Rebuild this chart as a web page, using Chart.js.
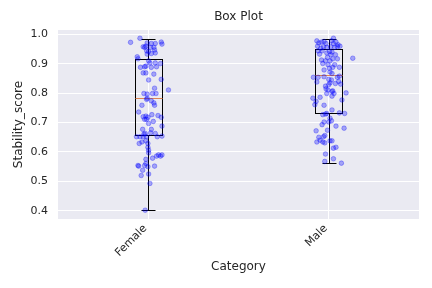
<!DOCTYPE html>
<html>
<head>
<meta charset="utf-8">
<script src="https://cdn.jsdelivr.net/npm/chart.js@4.4.1/dist/chart.umd.min.js"></script>
<style>
    html, body { margin: 0; padding: 0; background: #fff; }
</style>
</head>
<body>
<canvas id="boxChart" width="432" height="288"></canvas>
<script>
// Categories and box statistics
const categories = ["Female", "Male"];
const q1Values = [0.657, 0.731];
const medianValues = [0.784, 0.863];
const q3Values = [0.918, 0.949];
const whiskerLow = [0.401, 0.562];
const whiskerHigh = [0.986, 0.986];
const yTicks = [0.4, 0.5, 0.6, 0.7, 0.8, 0.9, 1.0];

// Individual scores and the horizontal jitter of each dot
const femaleScores = [0.987, 0.973, 0.971, 0.969, 0.969, 0.974, 0.967, 0.958, 0.956, 0.960,
    0.956, 0.956, 0.944, 0.942, 0.947, 0.937, 0.933, 0.935, 0.924, 0.917,
    0.910, 0.903, 0.903, 0.901, 0.888, 0.890, 0.892, 0.888, 0.890, 0.869,
    0.869, 0.865, 0.845, 0.847, 0.817, 0.811, 0.799, 0.797, 0.799, 0.799,
    0.779, 0.783, 0.774, 0.767, 0.759, 0.759, 0.736, 0.720, 0.722, 0.718,
    0.727, 0.724, 0.711, 0.711, 0.704, 0.718, 0.697, 0.688, 0.677, 0.677,
    0.661, 0.663, 0.665, 0.663, 0.652, 0.652, 0.652, 0.652, 0.652, 0.654,
    0.634, 0.638, 0.629, 0.629, 0.616, 0.606, 0.597, 0.590, 0.590, 0.575,
    0.579, 0.586, 0.586, 0.561, 0.554, 0.550, 0.552, 0.554, 0.552, 0.538,
    0.520, 0.525, 0.493, 0.402];
const femaleJitter = [-0.046, -0.098, -0.006, 0.017, 0.039, 0.072, 0.076, -0.028, -0.020, -0.013,
    0.013, 0.031, -0.009, 0.002, 0.035, 0.039, -0.006, 0.017, -0.061, -0.057,
    0.002, 0.009, 0.039, 0.068, -0.043, -0.020, -0.013, 0.017, 0.046, -0.028,
    -0.013, 0.031, 0.002, 0.072, 0.035, 0.112, -0.024, -0.006, 0.024, 0.043,
    -0.009, -0.006, 0.017, 0.031, 0.035, -0.035, -0.053, -0.028, -0.013, -0.002,
    0.020, 0.054, -0.020, -0.009, 0.028, 0.072, 0.002, 0.076, -0.031, 0.017,
    -0.024, -0.017, 0.013, 0.039, -0.065, -0.046, -0.028, -0.009, 0.050, 0.076,
    -0.035, -0.013, -0.002, -0.050, -0.002, 0.002, 0.002, 0.057, 0.076, -0.013,
    0.024, 0.046, 0.068, -0.013, -0.020, -0.002, 0.035, -0.057, -0.053, -0.031,
    -0.039, 0.002, 0.009, -0.017];

const maleScores = [0.987, 0.978, 0.971, 0.974, 0.976, 0.969, 0.978, 0.969, 0.974, 0.965,
    0.960, 0.960, 0.953, 0.958, 0.956, 0.958, 0.956, 0.958, 0.944, 0.944,
    0.937, 0.942, 0.940, 0.933, 0.931, 0.931, 0.922, 0.917, 0.917, 0.919,
    0.913, 0.910, 0.910, 0.901, 0.897, 0.897, 0.885, 0.888, 0.888, 0.879,
    0.872, 0.867, 0.854, 0.856, 0.854, 0.858, 0.854, 0.847, 0.845, 0.838,
    0.835, 0.840, 0.824, 0.829, 0.833, 0.831, 0.815, 0.811, 0.808, 0.801,
    0.799, 0.806, 0.799, 0.783, 0.786, 0.790, 0.772, 0.761, 0.777, 0.759,
    0.743, 0.727, 0.729, 0.731, 0.733, 0.731, 0.715, 0.706, 0.702, 0.702,
    0.693, 0.688, 0.681, 0.674, 0.672, 0.656, 0.652, 0.650, 0.640, 0.634,
    0.634, 0.631, 0.638, 0.638, 0.613, 0.616, 0.593, 0.568, 0.577, 0.562];
const maleJitter = [0.026, -0.066, -0.055, -0.040, -0.026, -0.015, 0.015, 0.026, 0.040, 0.051,
    0.062, -0.062, -0.044, -0.029, -0.011, 0.011, 0.033, 0.048, -0.059, -0.037,
    -0.011, 0.004, 0.018, -0.051, 0.011, 0.037, -0.007, 0.022, 0.048, 0.133,
    -0.040, -0.018, 0.007, -0.033, -0.004, 0.033, 0.004, 0.022, 0.059, -0.026,
    0.007, 0.018, -0.059, -0.026, 0.048, 0.059, -0.085, 0.000, 0.015, -0.066,
    0.007, 0.055, -0.018, 0.000, 0.037, 0.066, -0.015, -0.004, 0.022, 0.096,
    -0.011, 0.018, 0.029, -0.088, -0.048, 0.018, -0.070, -0.077, 0.073, -0.026,
    0.018, -0.033, -0.018, -0.011, 0.059, 0.088, 0.007, 0.015, 0.000, -0.026,
    -0.037, 0.040, 0.085, -0.007, -0.070, -0.022, -0.029, -0.055, -0.048, -0.033,
    -0.066, -0.022, 0.007, 0.018, 0.026, 0.040, -0.018, -0.022, 0.026, 0.070];

const textColor = "#262626";
const fontFamily = "'DejaVu Sans', sans-serif";

function toPoints(catIndex, scores, jitter) {
    return scores.map((v, i) => ({ x: catIndex + jitter[i], y: v }));
}

// Grey panel behind the grid
const panelBackground = {
    id: "panelBackground",
    beforeDraw(chart) {
        const { ctx, chartArea: a } = chart;
        ctx.save();
        ctx.fillStyle = "#EAEAF2";
        ctx.fillRect(a.left, a.top, a.right - a.left, a.bottom - a.top);
        ctx.restore();
    }
};

// Box, whiskers and median, placed through the chart scales
const boxDrawer = {
    id: "boxDrawer",
    beforeDatasetsDraw(chart) {
        const { ctx, scales: { x, y } } = chart;
        const half = 0.075;
        ctx.save();
        ctx.lineWidth = 1;
        categories.forEach((cat, i) => {
            const xl = Math.round(x.getPixelForValue(i - half)) + 0.5;
            const xr = Math.round(x.getPixelForValue(i + half)) + 0.5;
            const xc = Math.round(x.getPixelForValue(i)) + 0.5;
            const cl = Math.round(x.getPixelForValue(i - half / 2)) + 0.5;
            const cr = Math.round(x.getPixelForValue(i + half / 2)) + 0.5;
            const yq1 = Math.round(y.getPixelForValue(q1Values[i])) + 0.5;
            const yq3 = Math.round(y.getPixelForValue(q3Values[i])) + 0.5;
            const ymed = Math.round(y.getPixelForValue(medianValues[i])) + 0.5;
            const ylo = Math.round(y.getPixelForValue(whiskerLow[i])) + 0.5;
            const yhi = Math.round(y.getPixelForValue(whiskerHigh[i])) + 0.5;

            ctx.strokeStyle = "#000";
            ctx.strokeRect(xl, yq3, xr - xl, yq1 - yq3);
            ctx.beginPath();
            ctx.moveTo(xc, yq1); ctx.lineTo(xc, ylo);
            ctx.moveTo(xc, yq3); ctx.lineTo(xc, yhi);
            ctx.moveTo(cl, ylo); ctx.lineTo(cr, ylo);
            ctx.moveTo(cl, yhi); ctx.lineTo(cr, yhi);
            ctx.stroke();

            ctx.strokeStyle = "#DD8452";
            ctx.beginPath();
            ctx.moveTo(xl, ymed); ctx.lineTo(xr, ymed);
            ctx.stroke();
        });
        ctx.restore();
    }
};

const dotStyle = {
    backgroundColor: "rgba(0, 0, 255, 0.3)",
    borderColor: "rgba(0, 0, 255, 0.3)",
    borderWidth: 1,
    pointRadius: 2.3
};

new Chart(document.getElementById("boxChart"), {
    type: "scatter",
    data: {
        datasets: [
            { label: categories[0], data: toPoints(0, femaleScores, femaleJitter), ...dotStyle },
            { label: categories[1], data: toPoints(1, maleScores, maleJitter), ...dotStyle }
        ]
    },
    options: {
        responsive: false,
        animation: false,
        layout: { padding: { left: 0, right: 13, top: 0, bottom: 0 } },
        plugins: {
            legend: { display: false },
            tooltip: { enabled: false },
            title: {
                display: true,
                text: "Box Plot",
                fullSize: false,
                color: textColor,
                font: { family: fontFamily, size: 12, weight: "normal" },
                padding: { top: 10, bottom: 5.6 }
            }
        },
        scales: {
            x: {
                type: "linear",
                min: -0.5,
                max: 1.5,
                afterBuildTicks: s => { s.ticks = categories.map((c, i) => ({ value: i })); },
                afterFit: s => { s.height = 69; },
                grid: { color: "#ffffff", lineWidth: 1, drawTicks: false },
                border: { display: false },
                ticks: {
                    autoSkip: false,
                    minRotation: 45,
                    maxRotation: 45,
                    padding: 3,
                    labelOffset: -3,
                    color: textColor,
                    font: { family: fontFamily, size: 11 },
                    callback: v => categories[Math.round(v)]
                },
                title: {
                    display: true,
                    text: "Category",
                    color: textColor,
                    font: { family: fontFamily, size: 12 },
                    padding: { top: 0, bottom: 14 }
                }
            },
            y: {
                min: 0.372,
                max: 1.015,
                afterBuildTicks: s => { s.ticks = yTicks.map(v => ({ value: v })); },
                afterFit: s => { s.width = 58; },
                grid: { color: "#ffffff", lineWidth: 1, drawTicks: false },
                border: { display: false },
                ticks: {
                    padding: 10,
                    color: textColor,
                    font: { family: fontFamily, size: 11 },
                    callback: v => v.toFixed(1)
                },
                title: {
                    display: true,
                    text: "Stability_score",
                    color: textColor,
                    font: { family: fontFamily, size: 12 },
                    padding: { top: 12, bottom: 0 }
                }
            }
        }
    },
    plugins: [panelBackground, boxDrawer]
});
</script>
</body>
</html>
